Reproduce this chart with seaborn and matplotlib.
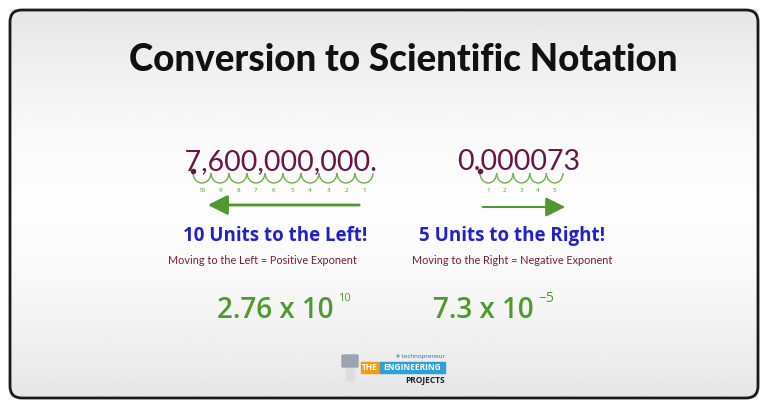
import matplotlib
matplotlib.use("Agg")
import matplotlib.pyplot as plt
import seaborn as sns
import numpy as np
from matplotlib.patches import FancyBboxPatch, Rectangle, Arc

sns.set_theme(style="white")
plt.rcParams['font.family'] = ['Open Sans', 'DejaVu Sans']

title = "Conversion to Scientific Notation"
numbers = ["27,600,000,000.", "0.000073"]
hop_counts = [10, 5]
hop_labels_left = ["10", "9", "8", "7", "6", "5", "4", "3", "2", "1"]
hop_labels_right = ["1", "2", "3", "4", "5"]
headings = ["10 Units to the Left!", "5 Units to the Right!"]
rules = ["Moving to the Left = Positive Exponent", "Moving to the Right = Negative Exponent"]
mantissas = ["2.76", "7.3"]
exponents = ["10", "-5"]

fig = plt.figure(figsize=(7.68, 4.11), dpi=100)
ax = fig.add_axes([0, 0, 1, 1])
ax.set_xlim(0, 768); ax.set_ylim(411, 0); ax.axis("off")
fig.patch.set_facecolor("white")

grad = np.linspace(0, 1, 200)[:, None]
ax.imshow(0.90 + 0.09 * np.sin(grad * np.pi) * np.ones((1, 10)), cmap="gray", vmin=0, vmax=1,
          extent=[10, 758, 398, 10], aspect="auto", zorder=0)
ax.add_patch(FancyBboxPatch((10, 10), 748, 388, boxstyle="round,pad=0,rounding_size=12",
                            fill=False, ec="#1a1a1a", lw=2, zorder=1))

ax.text(403, 60, title, ha="center", va="center", fontsize=26.5, fontweight="black", color="#111111",
        family=["Lato", "DejaVu Sans"])

purple = "#6a1548"; green = "#4e9a2e"; blue = "#1f22c8"; maroon = "#7a1a3a"

def clipped_text(x, y, s, left, **kw):
    t = ax.text(x, y, s, **kw)
    t.set_clip_on(True)
    t.set_clip_path(Rectangle((left, 0), 768 - left, 411, transform=ax.transData))
    return t

clipped_text(378, 170, numbers[0], 185, ha="right", va="baseline", fontsize=20.5, color=purple,
             family=["Lato"])
ax.text(519, 170, numbers[1], ha="center", va="baseline", fontsize=20.5, color=purple, family=["Lato"])

def hops(x0, x1, n, labels):
    xs = np.linspace(x0, x1, n + 1)
    w = xs[1] - xs[0]
    for i in range(n):
        ax.add_patch(Arc(((xs[i] + xs[i + 1]) / 2, 173), w, 20, theta1=0, theta2=180,
                         color="#6fb04a", lw=1))
        ax.text((xs[i] + xs[i + 1]) / 2, 190, labels[i], ha="center", va="center",
                fontsize=4.5, color=green)
    ax.plot([x0, x1], [171, 171], ls="none", marker="o", ms=3,
            color=purple, markevery=[0])

hops(193, 373, hop_counts[0], hop_labels_left)
hops(480, 563, hop_counts[1], hop_labels_right)

ax.annotate("", xy=(205, 205), xytext=(362, 205),
            arrowprops=dict(arrowstyle="-|>,head_length=1.0,head_width=0.5", color=green, lw=2))
ax.annotate("", xy=(568, 207), xytext=(480, 207),
            arrowprops=dict(arrowstyle="-|>,head_length=1.0,head_width=0.5", color=green, lw=1.5))

ax.text(275, 236, headings[0], ha="center", va="center", fontsize=13.5, fontweight="bold", color=blue)
ax.text(512, 236, headings[1], ha="center", va="center", fontsize=13.5, fontweight="bold", color=blue)
clipped_text(262, 260, rules[0], 168, ha="center", va="center", fontsize=7.8, color=maroon,
             family=["Lato"])
ax.text(512, 260, rules[1], ha="center", va="center", fontsize=7.8, color=maroon, family=["Lato"])

ax.text(275, 310, f"{mantissas[0]} x 10", ha="center", va="center", fontsize=20, color=green,
        fontweight="semibold")
ax.text(338, 298, exponents[0], ha="left", va="center", fontsize=8, color=green)
ax.text(483, 310, f"{mantissas[1]} x 10", ha="center", va="center", fontsize=20, color=green,
        fontweight="semibold")
ax.text(538, 298, "\u2212" + exponents[1][1:], ha="left", va="center", fontsize=10, color=green)

# logo
ax.add_patch(Rectangle((346, 358), 8, 22, color="#dddddd", zorder=2))
ax.add_patch(FancyBboxPatch((343, 356), 14, 10, boxstyle="round,pad=1", color="#9aa4b0", zorder=3))
ax.add_patch(Rectangle((361, 362), 19, 11, color="#f39c12", zorder=2))
ax.add_patch(Rectangle((380, 362), 65, 11, color="#2e9fd8", zorder=2))
ax.text(370, 367.5, "THE", ha="center", va="center", fontsize=6, fontweight="bold", color="white")
ax.text(412, 367.5, "ENGINEERING", ha="center", va="center", fontsize=6, fontweight="bold", color="white")
ax.text(445, 380, "PROJECTS", ha="right", va="center", fontsize=6, fontweight="bold", color="#222222")
ax.text(445, 356, "# technopreneur", ha="right", va="center", fontsize=4.5, color="#2e6fb0")

fig.savefig("out.png", dpi=100)
